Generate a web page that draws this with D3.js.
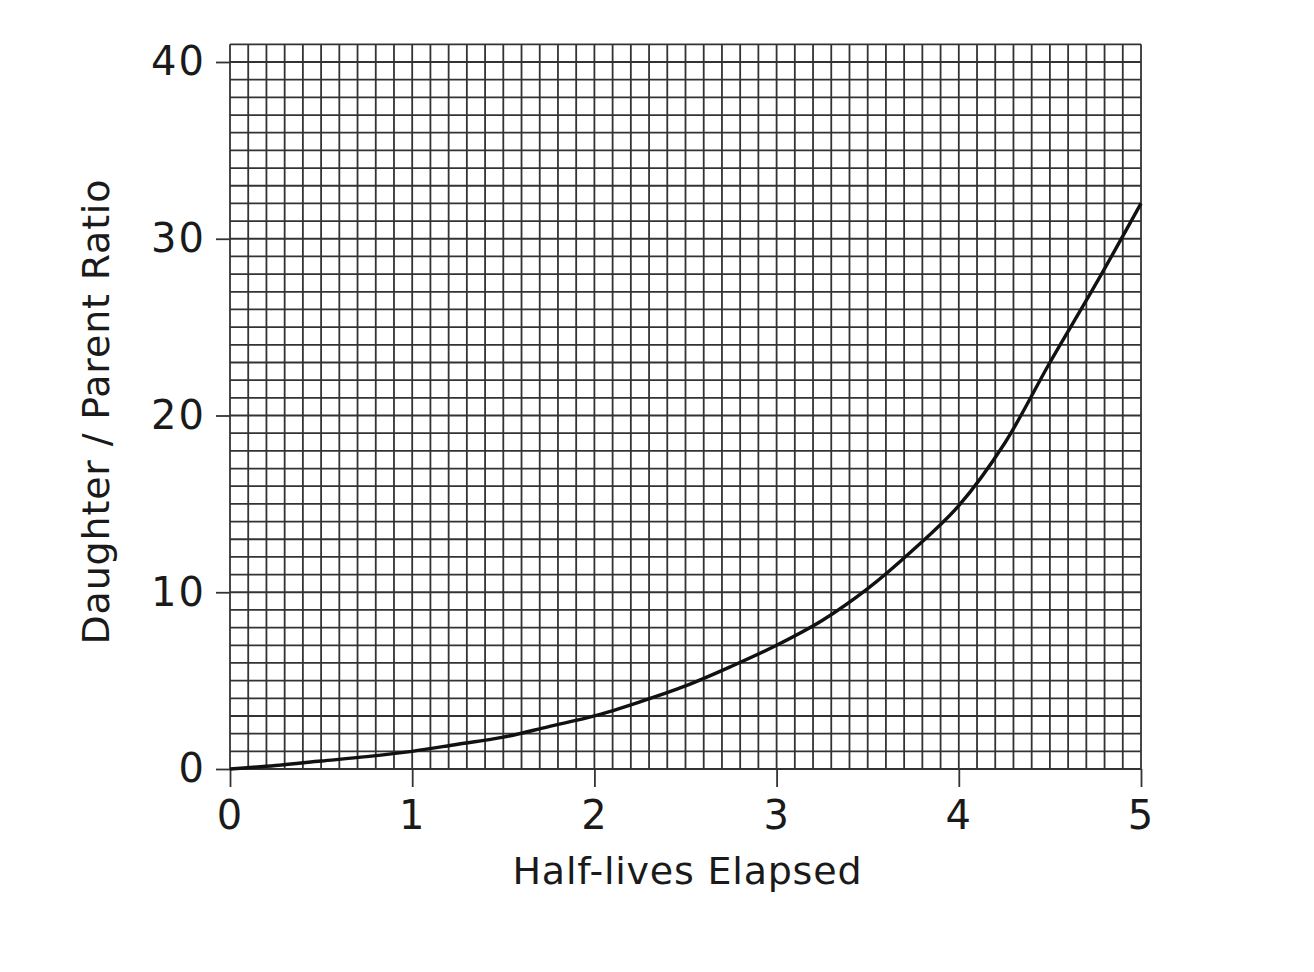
<!DOCTYPE html>
<html>
<head>
<meta charset="utf-8">
<script src="https://cdn.jsdelivr.net/npm/d3@7"></script>
<style>
  body { margin: 0; background: #fff; }
  svg { display: block; }
  text { font-family: "DejaVu Sans", "Liberation Sans", Arial, sans-serif; fill: #1a1a1a; }
</style>
</head>
<body>
<svg id="chart" width="1314" height="972"></svg>
<script>
// Data
const halfLives = [0, 0.25, 0.5, 0.75, 1, 1.25, 1.5, 1.75, 2, 2.25, 2.5, 2.75, 3, 3.25, 3.5, 3.75, 4, 4.25, 4.5, 4.75, 5];
const ratios    = [0, 0.2, 0.45, 0.7, 1.0, 1.4, 1.8, 2.4, 3.0, 3.8, 4.7, 5.8, 7.0, 8.4, 10.2, 12.4, 14.9, 18.4, 23.0, 27.4, 32.0];
const xTicks = [0, 1, 2, 3, 4, 5];
const yTicks = [0, 10, 20, 30, 40];
const xTitle = "Half-lives Elapsed";
const yTitle = "Daughter / Parent Ratio";

const svg = d3.select("#chart");
const left = 230, right = 1141, bottom = 769, top40 = 62;

const x = d3.scaleLinear().domain([0, 5]).range([left, right]);
const y = d3.scaleLinear().domain([0, 40]).range([bottom, top40]);

const gridColor = "#333";
const g = svg.append("g");

// grid lines: every 0.1 half-life, every 1 unit of ratio (one extra row above 40)
const xGrid = d3.range(0, 51).map(i => i / 10);
const yGrid = d3.range(0, 42);
g.selectAll("line.vx").data(xGrid).join("line")
  .attr("x1", d => x(d)).attr("x2", d => x(d))
  .attr("y1", y(41)).attr("y2", y(0))
  .attr("stroke", gridColor).attr("stroke-width", 1.8);
g.selectAll("line.hy").data(yGrid).join("line")
  .attr("y1", d => y(d)).attr("y2", d => y(d))
  .attr("x1", x(0)).attr("x2", x(5))
  .attr("stroke", gridColor).attr("stroke-width", 1.8);

// Axes (ticks only)
const xAxis = d3.axisBottom(x).tickValues(xTicks).tickSize(18).tickPadding(10).tickFormat(d3.format("d"));
const yAxis = d3.axisLeft(y).tickValues(yTicks).tickSize(14).tickPadding(10).tickFormat(d3.format("d"));

const gx = svg.append("g").attr("transform", `translate(0,${bottom})`).call(xAxis);
const gy = svg.append("g").attr("transform", `translate(${left},0)`).call(yAxis);
[gx, gy].forEach(a => {
  a.select(".domain").remove();
  a.selectAll(".tick line").attr("stroke", gridColor).attr("stroke-width", 1.8);
  a.selectAll(".tick text").style("font-size", "40px").style("letter-spacing", "2px").attr("fill", "#1a1a1a");
});
gx.selectAll(".tick text").attr("dy", "0.8em");

// curve
const line = d3.line().x((d, i) => x(halfLives[i])).y(d => y(d)).curve(d3.curveCatmullRom);
svg.append("path").datum(ratios)
  .attr("d", line).attr("fill", "none")
  .attr("stroke", "#111").attr("stroke-width", 3.4);

// titles
svg.append("text").attr("x", 687).attr("y", 884)
  .attr("text-anchor", "middle").style("font-size", "38px")
  .attr("textLength", 349).attr("lengthAdjust", "spacing").text(xTitle);
svg.append("text")
  .attr("transform", `translate(109,412) rotate(-90)`)
  .attr("text-anchor", "middle").style("font-size", "38px")
  .attr("textLength", 465).attr("lengthAdjust", "spacing").text(yTitle);
</script>
</body>
</html>
